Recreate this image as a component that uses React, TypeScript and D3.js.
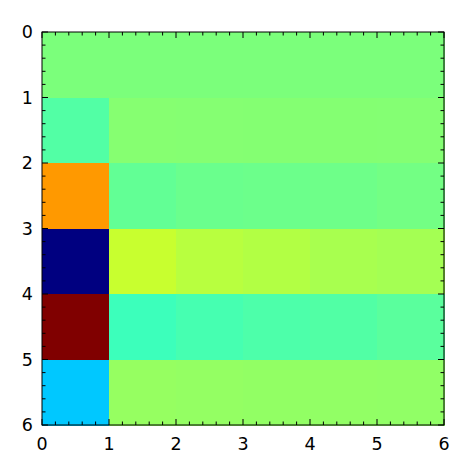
import React, { useEffect, useRef } from 'react';
import * as d3 from 'd3';

// heatmap values (rows top to bottom), mapped through jet on [0, 1]
const rows = [0, 1, 2, 3, 4, 5];
const cols = [0, 1, 2, 3, 4, 5];
const row0 = [0.5, 0.5, 0.5, 0.5, 0.5, 0.5];
const row1 = [0.45, 0.513, 0.512, 0.511, 0.511, 0.51];
const row2 = [0.748, 0.469, 0.479, 0.481, 0.484, 0.49];
const row3 = [0.0, 0.593, 0.574, 0.567, 0.554, 0.549];
const row4 = [1.0, 0.423, 0.435, 0.443, 0.449, 0.459];
const row5 = [0.321, 0.532, 0.53, 0.528, 0.527, 0.526];
const tickLabels = ['0', '1', '2', '3', '4', '5', '6'];

// matplotlib jet segment data
const jetR: [number, number][] = [[0, 0], [0.35, 0], [0.66, 1], [0.89, 1], [1, 0.5]];
const jetG: [number, number][] = [[0, 0], [0.125, 0], [0.375, 1], [0.64, 1], [0.91, 0], [1, 0]];
const jetB: [number, number][] = [[0, 0.5], [0.11, 1], [0.34, 1], [0.65, 0], [1, 0]];

const seg = (pts: [number, number][]) =>
  d3.scaleLinear().domain(pts.map(p => p[0])).range(pts.map(p => p[1])).clamp(true);
const rS = seg(jetR), gS = seg(jetG), bS = seg(jetB);
const jet = (v: number) => d3.rgb(rS(v) * 255, gS(v) * 255, bS(v) * 255).toString();

const App = () => {
  const ref = useRef<SVGSVGElement>(null);

  useEffect(() => {
    const width = 474;
    const height = 474;
    const left = 42, right = 444, top = 32, bottom = 425;
    const data = [row0, row1, row2, row3, row4, row5];

    const x = d3.scaleLinear().domain([0, 6]).range([left, right]);
    const y = d3.scaleLinear().domain([0, 6]).range([top, bottom]);

    const svg = d3.select(ref.current)
      .attr('width', width)
      .attr('height', height);
    svg.selectAll('*').remove();

    const cells = rows.flatMap(r => cols.map(c => ({ r, c, v: data[r][c] })));
    svg.append('g')
      .selectAll('rect')
      .data(cells)
      .enter()
      .append('rect')
      .attr('x', d => x(d.c))
      .attr('y', d => y(d.r))
      .attr('width', x(1) - x(0) + 0.5)
      .attr('height', y(1) - y(0) + 0.5)
      .attr('fill', d => jet(d.v))
      .attr('shape-rendering', 'crispEdges');

    const major = d3.range(0, 7);
    const minor = d3.range(0, 30).map(i => i * 0.2).filter(v => Math.abs(v - Math.round(v)) > 1e-6);
    const tk = svg.append('g').attr('stroke', '#000').attr('stroke-width', 1);
    const addTicks = (vals: number[], len: number) => {
      vals.forEach(v => {
        const px = x(v), py = y(v);
        tk.append('line').attr('x1', px).attr('x2', px).attr('y1', bottom).attr('y2', bottom - len);
        tk.append('line').attr('x1', px).attr('x2', px).attr('y1', top).attr('y2', top + len);
        tk.append('line').attr('y1', py).attr('y2', py).attr('x1', left).attr('x2', left + len);
        tk.append('line').attr('y1', py).attr('y2', py).attr('x1', right).attr('x2', right - len);
      });
    };
    addTicks(major, 6);
    addTicks(minor, 3.5);

    svg.append('rect')
      .attr('x', left)
      .attr('y', top)
      .attr('width', right - left)
      .attr('height', bottom - top)
      .attr('fill', 'none')
      .attr('stroke', '#000')
      .attr('stroke-width', 1);

    svg.append('g')
      .selectAll('text')
      .data(major)
      .enter()
      .append('text')
      .attr('x', d => x(d))
      .attr('y', bottom + 25)
      .attr('text-anchor', 'middle')
      .style('font-family', 'DejaVu Sans')
      .style('font-size', '17.5px')
      .text(d => tickLabels[d]);

    svg.append('g')
      .selectAll('text')
      .data(major)
      .enter()
      .append('text')
      .attr('x', left - 9)
      .attr('y', d => y(d))
      .attr('dy', '0.35em')
      .attr('text-anchor', 'end')
      .style('font-family', 'DejaVu Sans')
      .style('font-size', '17.5px')
      .text(d => tickLabels[d]);
  }, []);

  return (
    <div style={{ position: 'absolute', left: 0, top: 0 }}>
      <svg ref={ref}></svg>
    </div>
  );
};

export default App;
